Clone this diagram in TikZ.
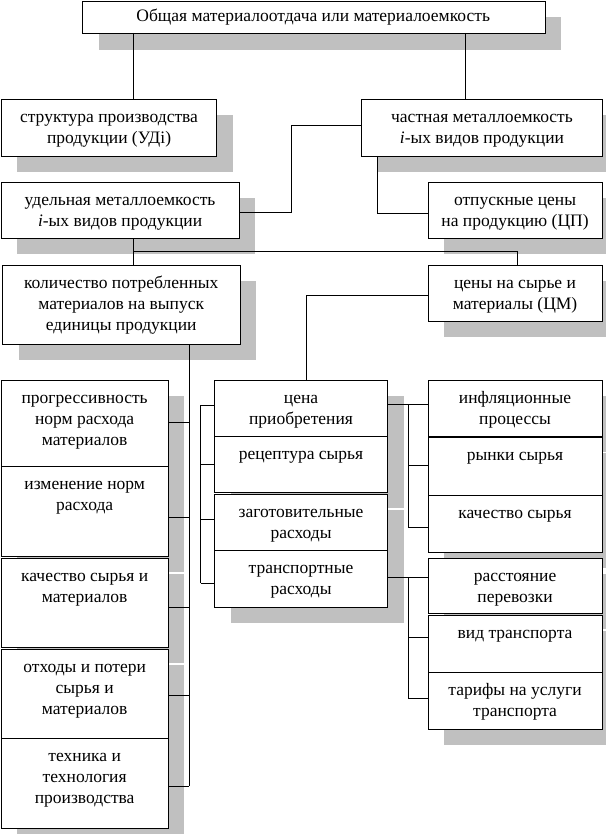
\documentclass[tikz,border=0pt]{standalone}
\usepackage{fontspec}
\setmainfont{Liberation Serif}
\definecolor{shadowgray}{RGB}{192,192,192}
\tikzset{
  boxline/.style={draw=black, line width=0.9pt, fill=white},
  shade/.style={fill=shadowgray, draw=none},
  label/.style={anchor=north, inner sep=0pt, align=center, font=\fontsize{17.5}{21}\selectfont},
  wire/.style={draw=black, line width=0.8pt}
}
% box: name, x1, y1, x2, y2, text
\newcommand\bx[6]{%
  \fill[shade] (#2+14,#3+16) rectangle (#4+14,#5+16);
  \path[boxline] (#2,#3) rectangle (#4,#5);
  \coordinate (#1-nw) at (#2,#3);
  \coordinate (#1-se) at (#4,#5);
  \node[label] (#1) at ({(#2+#4)/2},#3+9) {\strut #6};
}
\begin{document}
\begin{tikzpicture}[x=1.16pt,y=-1pt]
\clip (0,0) rectangle (522.4,834);
\useasboundingbox (0,0) rectangle (522.4,834);

% top level
\fill[shade] (85,17) rectangle (484,50);
\path[boxline] (71,1) rectangle (470,33);
\node[label, anchor=center] (total) at (270,17) {Общая материалоотдача или материалоемкость};

\bx{struct}{1}{99}{187}{156}{структура производства\\ продукции (УДi)}
\bx{partial}{312}{99}{519}{156}{частная металлоемкость\\ \textit{i}-ых видов продукции}
\bx{udel}{1}{182}{206}{238}{удельная металлоемкость\\ \textit{i}-ых видов продукции}
\bx{otpusk}{369}{182}{519}{238}{отпускные цены\\ на продукцию (ЦП)}
\bx{kolich}{2}{265}{207}{344}{количество потребленных\\ материалов на выпуск\\ единицы продукции}
\bx{ceny}{369}{265}{519}{321}{цены на сырье и\\ материалы (ЦМ)}

% left column
\bx{progr}{1}{380}{145}{466}{прогрессивность\\ норм расхода\\ материалов}
\bx{izmen}{1}{466}{145}{556}{изменение норм\\ расхода}
\bx{kach}{1}{558}{145}{647}{качество сырья и\\ материалов}
\bx{othod}{1}{649}{145}{738}{отходы и потери\\ сырья и\\ материалов}
\bx{tehn}{1}{738}{145}{828}{техника и\\ технология\\ производства}

% middle column
\bx{cena}{185}{380}{334}{436}{цена\\ приобретения}
\bx{recept}{185}{436}{334}{492}{рецептура сырья}
\bx{zagot}{185}{494}{334}{550}{заготовительные\\ расходы}
\bx{transp}{185}{550}{334}{607}{транспортные\\ расходы}

% right column
\bx{infl}{369}{380}{519}{436}{инфляционные\\ процессы}
\bx{rynki}{369}{437}{519}{495}{рынки сырья}
\bx{kachs}{369}{495}{519}{552}{качество сырья}
\bx{rasst}{369}{558}{519}{613}{расстояние\\ перевозки}
\bx{vid}{369}{615}{519}{672}{вид транспорта}
\bx{tarif}{369}{672}{519}{729}{тарифы на услуги\\ транспорта}

% connectors
\draw[wire] (115,33) -- (115,99);
\draw[wire] (401,33) -- (401,99);
\draw[wire] (partial-nw |- 0,125) -- (251,125) -- (251,212) -- (udel-se |- 0,212);
\draw[wire] (325,156) -- (325,213) -- (otpusk-nw |- 0,213);
\draw[wire] (115,238) -- (115,265);
\draw[wire] (115,251) -- (446,251) -- (446,265);
\draw[wire] (ceny-nw |- 0,295) -- (264,295) -- (264,380);
\draw[wire] (163,344) -- (163,786);
\foreach \y in {422,517,607,695,786} \draw[wire] (145,\y) -- (163,\y);
\draw[wire] (173,405) -- (173,583);
\foreach \y in {405,464,519,583} \draw[wire] (173,\y) -- (185,\y);
\draw[wire] (334,404) -- (369,404);
\draw[wire] (352,404) -- (352,527);
\foreach \y in {465,527} \draw[wire] (352,\y) -- (369,\y);
\draw[wire] (334,577) -- (369,577);
\draw[wire] (352,577) -- (352,698);
\foreach \y in {637,698} \draw[wire] (352,\y) -- (369,\y);
\end{tikzpicture}
\end{document}
